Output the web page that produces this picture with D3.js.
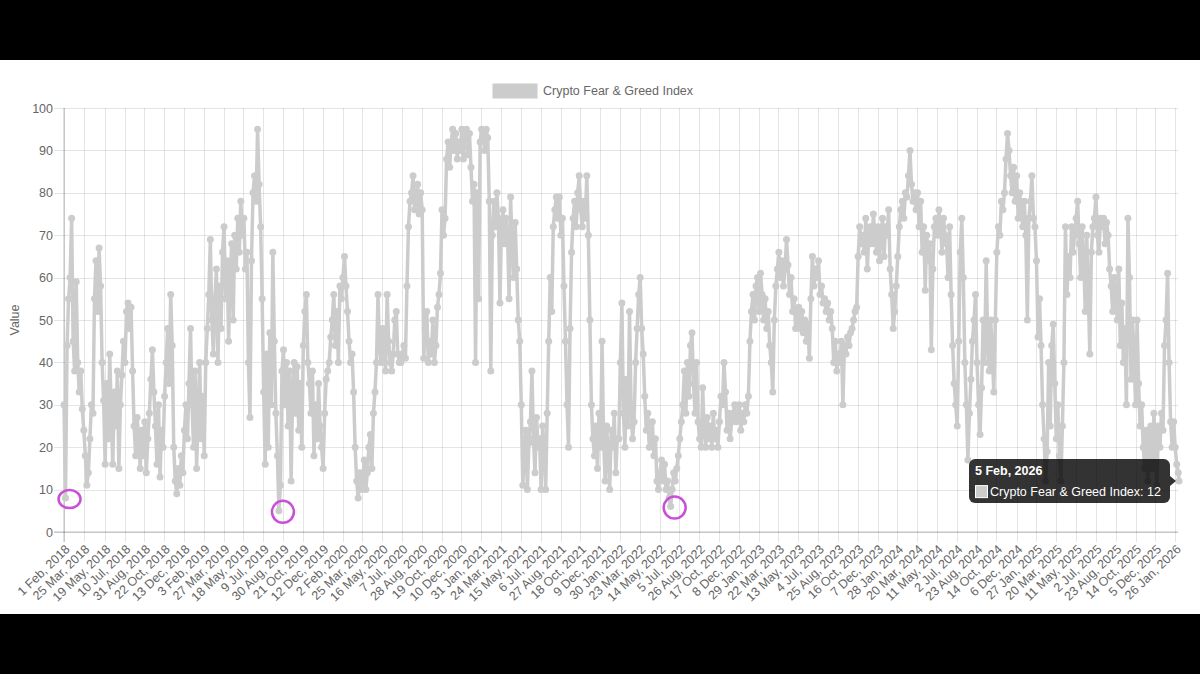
<!DOCTYPE html>
<html>
<head>
<meta charset="utf-8">
<script src="https://cdn.jsdelivr.net/npm/d3@7"></script>
<style>
  body { margin: 0; background: #000; }
  svg { display: block; font-family: "Helvetica Neue", Helvetica, Arial, "Liberation Sans", sans-serif; }
  .grid line { stroke: rgba(0,0,0,0.1); shape-rendering: crispEdges; }
  .axis text { fill: #666; font-size: 12.5px; }
</style>
<title>Crypto Fear & Greed Index</title>
</head>
<body>
<svg id="chart" width="1200" height="674"></svg>
<script>
const seriesName = "Crypto Fear & Greed Index";
const axisTitle = "Value";
const firstDate = "2018-02-01";
const stepDays = 4;

// one value every 4 days, in year-long blocks (Feb..Jan)
const fg2018 = [30,8,44,55,60,74,45,38,59,40,33,38,29,
  24,18,11,14,22,30,28,55,64,52,67,58,40,
  31,16,35,22,42,28,16,33,25,38,15,30,37,
  45,40,52,54,48,53,38,25,18,27,22,15,24,
  18,26,14,22,28,36,43,33,25,16,30,13,24,
  20,32,40,48,35,56,44,20,12,9,15,11,18,
  14,24,30,22,35,48,30,20,38,15,28,40,22];
const fg2019 = [32,18,40,48,56,69,50,42,55,62,40,58,48,
  66,72,55,64,45,60,68,50,70,62,74,66,78,
  70,74,62,66,40,27,64,80,84,78,95,82,72,
  55,33,16,42,20,47,30,66,45,28,18,5,11,
  38,43,30,40,25,38,12,33,40,28,39,24,35,
  20,44,52,56,40,35,28,38,18,30,22,35,25,
  20,15,28,36,38,40,46,50,56,44,52,40,58];
const fg2020 = [55,60,65,58,52,45,40,42,33,20,12,8,14,
  10,12,17,10,14,20,23,15,28,33,40,56,44,
  40,48,42,38,56,45,40,38,42,50,52,42,40,
  40,42,44,41,58,72,78,80,84,76,78,82,75,
  80,76,41,48,52,40,45,42,50,40,44,53,56,
  61,76,70,74,88,92,86,92,95,90,94,88,92,
  90,95,88,93,95,89,94,86,78,82,40,80,55];
const fg2021 = [92,95,94,90,95,93,78,38,70,78,72,80,74,
  54,72,76,68,74,70,55,79,67,60,73,62,50,
  45,30,11,18,24,10,21,26,38,22,14,27,20,
  22,10,25,20,10,28,45,60,52,72,76,79,74,
  79,70,74,58,45,30,20,48,66,74,78,72,80,
  84,76,72,78,74,84,70,50,30,22,18,25,15,
  28,20,45,22,12,25,18,10,24,20,28,14,22];
const fg2022 = [22,40,54,28,20,36,25,52,30,22,26,40,48,
  56,60,48,42,32,24,28,20,22,26,18,22,12,
  10,14,17,12,16,10,12,8,6,10,14,12,15,
  18,22,26,30,38,28,40,32,44,47,35,28,40,
  26,22,20,34,24,20,27,22,25,20,28,22,24,
  20,26,32,30,40,33,24,28,22,26,28,30,26,
  27,30,24,28,26,30,28,32,45,52,56,50,58];
const fg2023 = [60,52,61,56,50,55,48,52,44,40,33,50,58,
  62,66,60,64,58,62,69,63,56,60,52,55,48,
  50,53,48,52,47,50,45,49,41,55,65,58,62,
  60,64,56,58,54,55,52,54,50,52,48,40,45,
  38,42,40,45,30,44,42,46,44,47,48,50,52,
  53,65,72,68,70,66,74,62,70,72,68,75,70,
  66,72,64,70,74,65,72,70,76,62,56,48,52];
const fg2024 = [58,65,72,76,78,74,80,79,84,90,82,78,80,
  76,80,72,78,66,72,57,70,64,68,43,62,72,
  74,70,76,72,66,74,70,68,60,72,56,44,35,
  30,25,45,66,74,60,40,30,17,28,36,45,50,
  56,40,30,23,34,50,40,64,45,38,50,42,33,
  50,66,72,70,78,76,80,88,94,90,84,80,86,
  78,84,74,80,76,72,78,70,50,74,78,84,74];
const fg2025 = [72,64,46,55,44,30,22,12,19,40,25,44,49,
  35,22,30,18,12,25,40,72,56,65,60,72,66,
  70,74,78,68,60,72,64,52,70,56,42,66,72,
  74,79,70,66,74,72,74,68,73,70,62,58,52,
  60,56,50,62,44,54,40,48,30,74,60,36,50,
  42,30,50,35,25,30,20,15,24,12,22,25,15,
  28,22,11,25,20,28,24,44,50,61,40,26,20,
  26,20,16,14];
const lastDate = "2026-02-05";
const lastValue = 12;

const tickLabels = ["1 Feb, 2018","25 Mar, 2018","19 May, 2018","10 Jul, 2018","31 Aug, 2018","22 Oct, 2018","13 Dec, 2018",
  "3 Feb, 2019","27 Mar, 2019","18 May, 2019","9 Jul, 2019","30 Aug, 2019","21 Oct, 2019","12 Dec, 2019",
  "2 Feb, 2020","25 Mar, 2020","16 May, 2020","7 Jul, 2020","28 Aug, 2020","19 Oct, 2020","10 Dec, 2020",
  "31 Jan, 2021","24 Mar, 2021","15 May, 2021","6 Jul, 2021","27 Aug, 2021","18 Oct, 2021","9 Dec, 2021",
  "30 Jan, 2022","23 Mar, 2022","14 May, 2022","5 Jul, 2022","26 Aug, 2022","17 Oct, 2022","8 Dec, 2022",
  "29 Jan, 2023","22 Mar, 2023","13 May, 2023","4 Jul, 2023","25 Aug, 2023","16 Oct, 2023","7 Dec, 2023",
  "28 Jan, 2024","20 Mar, 2024","11 May, 2024","2 Jul, 2024","23 Aug, 2024","14 Oct, 2024","6 Dec, 2024",
  "27 Jan, 2025","20 Mar, 2025","11 May, 2025","2 Jul, 2025","23 Aug, 2025","14 Oct, 2025","5 Dec, 2025",
  "26 Jan, 2026"];
const yTicks = [0,10,20,30,40,50,60,70,80,90,100];
// the three extreme-fear lows that are ringed in the picture
const lowMarks = ["2018-02-05","2019-08-19","2022-06-12"];

const parseIso = d3.timeParse("%Y-%m-%d");
const parseLabel = d3.timeParse("%d %b, %Y");
const fmt = d3.timeFormat("%-d %b, %Y");

const start = parseIso(firstDate);
const values = [].concat(fg2018, fg2019, fg2020, fg2021, fg2022, fg2023, fg2024, fg2025);
const data = values.map((v, i) => ({ date: d3.timeDay.offset(start, i * stepDays), value: v }));
data.push({ date: parseIso(lastDate), value: lastValue });

const W = 1200, H = 674;
const plotL = 64, plotR = 1179, plotT = 108, plotB = 532;
const lineColor = "#cccccc";

const svg = d3.select("#chart");
svg.append("rect").attr("x", 0).attr("y", 60).attr("width", W).attr("height", 554).attr("fill", "#fff");

const x = d3.scaleTime().domain([start, parseIso(lastDate)]).range([plotL, plotR]);
const y = d3.scaleLinear().domain([0, 100]).range([plotB, plotT]);

// y axis + horizontal grid
const yAxis = d3.axisLeft(y).tickValues(yTicks).tickSize(-(plotR - plotL)).tickPadding(11);
const gy = svg.append("g").attr("class", "axis grid").attr("transform", "translate(" + plotL + ",0)").call(yAxis);
gy.select(".domain").remove();
gy.selectAll(".tick line").attr("x1", -10).attr("x2", plotR - 1 - plotL);
gy.selectAll(".tick text").attr("font-size", 12.5);

// x axis + vertical grid
const tickDates = tickLabels.map(parseLabel);
const xAxis = d3.axisBottom(x).tickValues(tickDates).tickFormat(fmt).tickSize(-(plotB - plotT));
const gx = svg.append("g").attr("class", "axis grid").attr("transform", "translate(0," + plotB + ")").call(xAxis);
gx.select(".domain").remove();
gx.selectAll(".tick line").attr("y1", 10);
gx.selectAll(".tick text")
  .attr("y", 0).attr("dy", "0.35em")
  .attr("text-anchor", "end")
  .attr("transform", "translate(3,15) rotate(-44)");

// axis borders
svg.append("line").attr("x1", plotL).attr("x2", plotL).attr("y1", plotT).attr("y2", plotB + 10)
  .attr("stroke", "rgba(0,0,0,0.25)");
svg.append("line").attr("x1", plotL - 10).attr("x2", plotR - 1).attr("y1", plotB).attr("y2", plotB)
  .attr("stroke", "rgba(0,0,0,0.25)");

svg.append("text").attr("transform", "translate(19," + ((plotT + plotB) / 2) + ") rotate(-90)")
  .attr("text-anchor", "middle").attr("fill", "#666").attr("font-size", 12.5).text(axisTitle);

// legend
const lg = svg.append("g");
lg.append("rect").attr("x", 493.5).attr("y", 84.5).attr("width", 43).attr("height", 13)
  .attr("fill", lineColor).attr("stroke", lineColor).attr("stroke-width", 2);
lg.append("text").attr("x", 543).attr("y", 91).attr("dy", "0.35em")
  .attr("fill", "#666").attr("font-size", 12.5).text(seriesName);

// the series
const line = d3.line().x(d => x(d.date)).y(d => y(d.value));
svg.append("path").datum(data).attr("d", line)
  .attr("fill", "none").attr("stroke", lineColor).attr("stroke-width", 3.5).attr("stroke-linejoin", "round");
svg.append("g").selectAll("circle").data(data).enter().append("circle")
  .attr("cx", d => x(d.date)).attr("cy", d => y(d.value)).attr("r", 3.5)
  .attr("fill", lineColor);

// ringed lows
const lows = lowMarks.map(s => {
  const t = parseIso(s).getTime();
  return data.find(d => d.date.getTime() === t);
});
svg.append("g").selectAll("ellipse").data(lows).enter().append("ellipse")
  .attr("cx", d => x(d.date) + 4).attr("cy", d => y(d.value) + 1)
  .attr("rx", 11).attr("ry", (d, i) => i === 0 ? 9 : 11)
  .attr("fill", "none").attr("stroke", "#c94fd8").attr("stroke-width", 2.5);

// tooltip on last point
const last = data[data.length - 1];
const px = x(last.date), py = y(last.value);
const tw = 201, th = 44;
const tx = px - 9 - tw, ty = py - 22;
const tip = svg.append("g");
tip.append("rect").attr("x", tx).attr("y", ty).attr("width", tw).attr("height", th).attr("rx", 6)
  .attr("fill", "rgba(0,0,0,0.8)");
tip.append("path").attr("d", "M" + (tx + tw) + "," + (py - 5) + "L" + (tx + tw + 6) + "," + py + "L" + (tx + tw) + "," + (py + 5) + "Z")
  .attr("fill", "rgba(0,0,0,0.8)");
tip.append("text").attr("x", tx + 6).attr("y", ty + 16).attr("fill", "#fff")
  .attr("font-size", 12.5).attr("font-weight", "bold").text(fmt(last.date));
tip.append("rect").attr("x", tx + 6.5).attr("y", ty + 26.5).attr("width", 12).attr("height", 12)
  .attr("fill", lineColor).attr("stroke", "#fff").attr("stroke-width", 1);
tip.append("text").attr("x", tx + 21).attr("y", ty + 37).attr("fill", "#fff")
  .attr("font-size", 12.5).text(seriesName + ": " + last.value);
</script>
</body>
</html>
